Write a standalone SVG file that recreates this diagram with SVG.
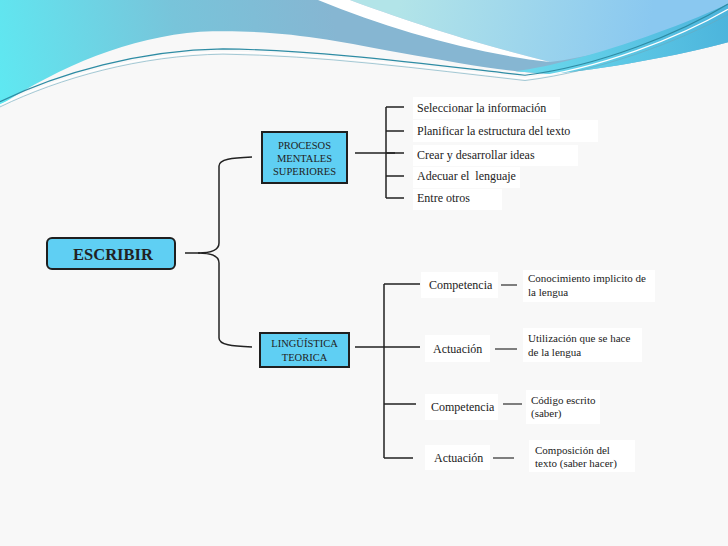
<svg xmlns="http://www.w3.org/2000/svg" width="728" height="546" viewBox="0 0 728 546">
<defs>
<linearGradient id="gMain" x1="0" y1="90" x2="330" y2="0" gradientUnits="userSpaceOnUse">
<stop offset="0" stop-color="#5ee9f2"/>
<stop offset="0.55" stop-color="#78c4da"/>
<stop offset="1" stop-color="#86b6d2"/>
</linearGradient>
<linearGradient id="gPale" x1="400" y1="0" x2="640" y2="60" gradientUnits="userSpaceOnUse">
<stop offset="0" stop-color="#b2e4e8"/>
<stop offset="1" stop-color="#8ac8f0"/>
</linearGradient>
<linearGradient id="gSwoosh" x1="530" y1="60" x2="728" y2="10" gradientUnits="userSpaceOnUse">
<stop offset="0" stop-color="#6ad8ec"/>
<stop offset="1" stop-color="#4cb4dc"/>
</linearGradient>
<style>
.box{fill:#5fcff3;stroke:#1f1f1f;stroke-width:2}
.lbl{fill:#ffffff}
.t{font-family:"Liberation Serif","Times New Roman",serif;fill:#222}
.t12{font-size:12px}
.t11{font-size:11px}
.bx{font-size:10.5px;text-anchor:middle}
.ln{fill:none;stroke:#222;stroke-width:1.5}
.dn{fill:none;stroke:#555;stroke-width:1.5}
.hl{fill:none;vector-effect:non-scaling-stroke}
</style>
</defs>
<rect width="728" height="546" fill="#f8f8f8"/>
<!-- header decoration -->
<g id="header" transform="scale(1,1.32)">
<path d="M0,0 H728 V32 C680,42 600,53 550,56 C510,55 460,48 400,40 C330,30 280,22 200,24 C130,28 60,50 0,80 Z" fill="url(#gMain)"/>
<path d="M350,0 C400,14 470,32 550,47 C620,40 690,20 728,3 V0 Z" fill="url(#gPale)"/>
<path d="M318,0 C390,22 470,40 550,47 C470,32 400,14 350,0 Z" fill="#ffffff"/>
<path d="M515,54 C560,50 650,30 728,3 V32 C680,42 600,53 550,56 Z" fill="url(#gSwoosh)"/>
<path class="hl" d="M0,77 C60,55 140,38 223,37 C320,38 420,48 525,57 C600,50 680,25 728,3" stroke="#2e8ca4" stroke-width="1.2"/>
<path class="hl" d="M0,79.5 C60,57.5 140,40.5 223,39.5 C320,40.5 420,50.5 525,59.5 C600,52 680,28 728,7" stroke="#ffffff" stroke-width="1.2"/>
<path class="hl" d="M0,81 C60,59 140,42 223,41 C320,42 420,52 525,61 C600,54 680,31 728,11" stroke="#6aa8bc" stroke-width="0.6"/>
</g>

<!-- label backgrounds -->
<g id="label-bgs">
<rect class="lbl" x="413" y="97" width="147" height="22"/>
<rect class="lbl" x="413" y="120" width="185" height="22"/>
<rect class="lbl" x="413" y="145" width="165" height="21"/>
<rect class="lbl" x="413" y="167" width="107" height="21"/>
<rect class="lbl" x="413" y="189" width="89" height="21"/>
<rect class="lbl" x="421" y="272" width="77" height="26"/>
<rect class="lbl" x="523" y="270" width="132" height="32"/>
<rect class="lbl" x="425" y="335" width="65" height="27"/>
<rect class="lbl" x="523" y="328" width="119" height="34"/>
<rect class="lbl" x="425" y="394" width="73" height="26"/>
<rect class="lbl" x="526" y="390" width="74" height="34"/>
<rect class="lbl" x="425" y="445" width="65" height="25"/>
<rect class="lbl" x="529" y="440" width="106" height="32"/>
</g>

<g id="connectors">
<path class="ln" d="M185,253 H200"/>
<path class="ln" d="M252,157 C232,158 219,159 219,166 L219,243 C219,250 212,253 198,253 C212,253 219,256 219,263 L219,338 C219,345 232,346 252,347"/>
<path class="ln" d="M355,153 H395"/>
<path class="ln" d="M386,107 V198 M386,107 H404 M386,131 H404 M386,153 H404 M386,176 H404 M386,198 H404"/>
<path class="ln" d="M355,347 H420"/>
<path class="ln" d="M384,284 V458 M384,284 H420 M384,404 H416 M384,458 H413"/>
<path class="dn" d="M501,285 H517 M495,349 H517 M503,404 H522 M493,458 H514"/>
</g>

<g id="escribir">
<rect class="box" x="47" y="238" width="128" height="31" rx="5"/>
<text class="t" x="113" y="259.5" font-size="16.5" font-weight="bold" text-anchor="middle">ESCRIBIR</text>
</g>
<g id="procesos">
<rect class="box" x="262" y="132" width="85" height="51"/>
<text class="t bx" x="304.5" y="149">PROCESOS</text>
<text class="t bx" x="304.5" y="162">MENTALES</text>
<text class="t bx" x="304.5" y="175">SUPERIORES</text>
</g>
<g id="linguistica">
<rect class="box" x="260" y="333" width="89" height="34"/>
<text class="t bx" x="304.5" y="347">LINGÜÍSTICA</text>
<text class="t bx" x="304.5" y="361">TEORICA</text>
</g>

<g id="seleccionar"><text class="t t12" x="417" y="112">Seleccionar la información</text></g>
<g id="planificar"><text class="t t12" x="417" y="135">Planificar la estructura del texto</text></g>
<g id="crear"><text class="t t12" x="417" y="159">Crear y desarrollar ideas</text></g>
<g id="adecuar"><text class="t t12" x="417" y="180" xml:space="preserve">Adecuar el  lenguaje</text></g>
<g id="entre"><text class="t t12" x="417" y="202">Entre otros</text></g>

<g id="competencia1"><text class="t t12" x="429" y="289">Competencia</text></g>
<g id="conocimiento"><text class="t t11" x="528" y="282">Conocimiento implicito de</text><text class="t t11" x="528" y="295.5">la lengua</text></g>
<g id="actuacion1"><text class="t t12" x="433" y="352.5">Actuación</text></g>
<g id="utilizacion"><text class="t t11" x="528" y="342">Utilización que se hace</text><text class="t t11" x="528" y="355.5">de la lengua</text></g>
<g id="competencia2"><text class="t t12" x="431" y="411">Competencia</text></g>
<g id="codigo"><text class="t t11" x="531" y="403.5">Código escrito</text><text class="t t11" x="531" y="417">(saber)</text></g>
<g id="actuacion2"><text class="t t12" x="434" y="462">Actuación</text></g>
<g id="composicion"><text class="t t11" x="535" y="453.5">Composición del</text><text class="t t11" x="535" y="467">texto (saber hacer)</text></g>
</svg>
